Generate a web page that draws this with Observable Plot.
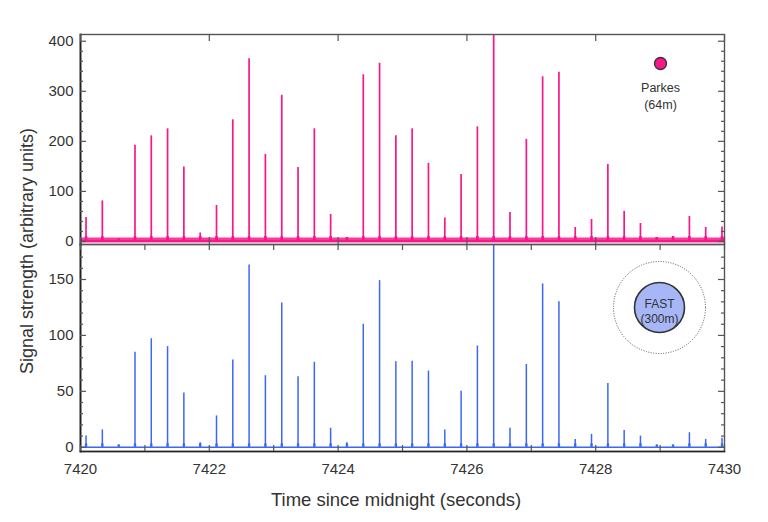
<!DOCTYPE html>
<html>
<head>
<meta charset="utf-8">
<script src="https://cdn.jsdelivr.net/npm/d3@7"></script>
<script src="https://cdn.jsdelivr.net/npm/@observablehq/plot@0.6"></script>
<style>
  html, body { margin: 0; padding: 0; background: #fff; }
  #wrap { position: relative; width: 768px; height: 522px; overflow: hidden; font-family: "Liberation Sans", Arial, sans-serif; color: #333; }
  #top, #bottom { position: absolute; left: 0; }
  #top { top: 0; }
  #bottom { top: 232px; }
  .ylab { position: absolute; left: 27px; top: 251px; transform: translate(-50%, -50%) rotate(-90deg); white-space: nowrap; font-size: 18px; }
  .xlab { position: absolute; left: 396px; top: 500px; transform: translate(-50%, -50%); white-space: nowrap; font-size: 18.5px; }
</style>
</head>
<body>
<div id="wrap">
  <div id="top"></div>
  <div id="bottom"></div>
  <div class="ylab">Signal strength (arbitrary units)</div>
  <div class="xlab">Time since midnight (seconds)</div>
</div>
<script>
// ---- data ----
const xDomain = [7420, 7430];
const xTicksAll = [7420, 7421, 7422, 7423, 7424, 7425, 7426, 7427, 7428, 7429, 7430];
const xTicksEven = [7420, 7422, 7424, 7426, 7428, 7430];

const pulseTimes = [
  7420.086, 7420.339, 7420.593, 7420.846, 7421.099, 7421.352, 7421.605, 7421.859,
  7422.112, 7422.365, 7422.618, 7422.871, 7423.125, 7423.378, 7423.631, 7423.884,
  7424.137, 7424.391, 7424.644, 7424.897, 7425.150, 7425.403, 7425.657, 7425.910,
  7426.163, 7426.416, 7426.669, 7426.923, 7427.176, 7427.429, 7427.682, 7427.935,
  7428.189, 7428.442, 7428.695, 7428.948, 7429.201, 7429.455, 7429.708, 7429.961
];
const parkesPeaks = [
  48, 81, 5, 192, 211, 225, 149, 17,
  72, 243, 365, 174, 292, 148, 225, 54,
  8, 333, 356, 211, 225, 156, 47, 134,
  229, 420, 58, 204, 329, 338, 28, 44,
  154, 60, 36, 8, 10, 50, 28, 29
];
const fastPeaks = [
  10, 15.5, 2, 85, 97, 90, 48.5, 4,
  28, 78, 163, 64, 129, 63, 76, 17,
  4, 110, 149, 76.5, 77, 68, 15.5, 50,
  90.5, 185, 17, 74, 146, 130, 7, 11.5,
  57, 15, 10, 2, 2, 13, 7, 8
];

const parkesMajor = [0, 100, 200, 300, 400];
const parkesMinor = [20, 40, 60, 80, 120, 140, 160, 180, 220, 240, 260, 280, 320, 340, 360, 380];
const fastMajor = [0, 50, 100, 150];
const fastMinor = [10, 20, 30, 40, 60, 70, 80, 90, 110, 120, 130, 140, 160, 170];

const parkesDomain = [-6, 413.4];
const fastDomain = [-3.8, 181.3];

const pink = "#f7178a";
const blue = "#3b68f2";
const ink = "#333";
const frameInk = "#555";
const axisInk = "#222";

const pulses = pulseTimes.map((t, i) => ({t, parkes: parkesPeaks[i], fast: fastPeaks[i]}));

const font = '"Liberation Sans", Arial, sans-serif';

// frame geometry (pixels)
const W = 768, ML = 80, MR = 44;
const TOP = {h: 258, mt: 34, mb: 14};   // frame 34..244
const BOT = {h: 290, mt: 12, mb: 71};   // frame 244..451 (svg offset 232)

// convert a pixel tick length into data units for each scale
const xPerPx = (xDomain[1] - xDomain[0]) / (W - ML - MR);
function yPerPx(domain, cfg) { return (domain[1] - domain[0]) / (cfg.h - cfg.mt - cfg.mb); }

function frameTicks(domain, cfg, yMajor, yMinor, xTop, xBottom, xLenTop, xLenBot) {
  const ky = yPerPx(domain, cfg);
  const st = {stroke: frameInk, strokeWidth: 1.2};
  const yRule = (vals, len) => [
    Plot.ruleY(vals, {y: d => d, x1: xDomain[0], x2: xDomain[0] + len * xPerPx, ...st}),
    Plot.ruleY(vals, {y: d => d, x1: xDomain[1], x2: xDomain[1] - len * xPerPx, ...st})
  ];
  return [
    ...yRule(yMajor, 6),
    ...yRule(yMinor, 3),
    Plot.ruleX(xTop, {x: d => d, y1: domain[1], y2: domain[1] - xLenTop * ky, ...st}),
    Plot.ruleX(xBottom, {x: d => d, y1: domain[0], y2: domain[0] + xLenBot * ky, ...st})
  ];
}

// ---- top panel: Parkes ----
const topPlot = Plot.plot({
  width: W, height: TOP.h,
  marginLeft: ML, marginRight: MR, marginTop: TOP.mt, marginBottom: TOP.mb,
  style: {background: "transparent", fontFamily: font, fontSize: "15px", color: ink, overflow: "visible"},
  x: {domain: xDomain, label: null, axis: null},
  y: {domain: parkesDomain, label: null},
  marks: [
    Plot.ruleY([3], {stroke: pink, strokeWidth: 5, strokeOpacity: 0.85}),
    Plot.ruleY([1], {stroke: pink, strokeWidth: 2}),
    Plot.ruleX(pulses, {x: "t", y1: 0, y2: d => Math.min(d.parkes, 10), stroke: pink, strokeWidth: 2.6, clip: true}),
    Plot.ruleX(pulses, {x: "t", y1: 0, y2: "parkes", stroke: pink, strokeWidth: 1.7, clip: true}),
    Plot.frame({stroke: frameInk, strokeWidth: 1.4}),
    Plot.frame({anchor: "left", stroke: axisInk, strokeWidth: 1.8}),
    ...frameTicks(parkesDomain, TOP, parkesMajor, parkesMinor, xTicksEven, xTicksEven, 7, 7),
    Plot.axisY(parkesMajor, {anchor: "left", tickSize: 0, tickPadding: 7, fill: ink, fontSize: 15}),
    Plot.dot([0], {frameAnchor: "top-right", dx: -64, dy: 29, r: 6, fill: pink, stroke: "#333", strokeWidth: 1.3}),
    Plot.text(["Parkes"], {frameAnchor: "top-right", dx: -64, dy: 49, textAnchor: "middle", fontSize: 12.5, fill: ink}),
    Plot.text(["(64m)"], {frameAnchor: "top-right", dx: -64, dy: 66, textAnchor: "middle", fontSize: 12.5, fill: ink})
  ]
});
document.getElementById("top").appendChild(topPlot);

// ---- bottom panel: FAST ----
const bottomPlot = Plot.plot({
  width: W, height: BOT.h,
  marginLeft: ML, marginRight: MR, marginTop: BOT.mt, marginBottom: BOT.mb,
  style: {background: "transparent", fontFamily: font, fontSize: "15px", color: ink},
  x: {domain: xDomain, label: null},
  y: {domain: fastDomain, label: null},
  marks: [
    Plot.ruleY([0], {stroke: blue, strokeWidth: 1.4}),
    Plot.ruleX(pulses, {x: "t", y1: 0, y2: d => Math.min(d.fast, 3), stroke: blue, strokeWidth: 2.4, clip: true}),
    Plot.ruleX(pulses, {x: "t", y1: 0, y2: "fast", stroke: blue, strokeWidth: 1.5, clip: true}),
    Plot.frame({stroke: frameInk, strokeWidth: 1.4}),
    Plot.frame({anchor: "left", stroke: axisInk, strokeWidth: 1.8}),
    Plot.frame({anchor: "bottom", stroke: axisInk, strokeWidth: 1.6}),
    ...frameTicks(fastDomain, BOT, fastMajor, fastMinor, xTicksAll, xTicksAll, 6, 6),
    Plot.axisY(fastMajor, {anchor: "left", tickSize: 0, tickPadding: 7, fill: ink, fontSize: 15}),
    Plot.axisX(xTicksEven, {anchor: "bottom", tickSize: 0, tickPadding: 12, fill: ink, fontSize: 15, tickFormat: d => String(d)}),
    Plot.dot([0], {frameAnchor: "top-right", dx: -65, dy: 63, r: 46, fill: "none", stroke: "#555", strokeWidth: 1, strokeDasharray: "1,1.5"}),
    Plot.dot([0], {frameAnchor: "top-right", dx: -65, dy: 63, r: 25, fill: "#a6b6f6", stroke: "#333", strokeWidth: 1.6}),
    Plot.text(["FAST"], {frameAnchor: "top-right", dx: -65, dy: 55, textAnchor: "middle", fontSize: 12, fill: ink}),
    Plot.text(["(300m)"], {frameAnchor: "top-right", dx: -65, dy: 70, textAnchor: "middle", fontSize: 12, fill: ink})
  ]
});
document.getElementById("bottom").appendChild(bottomPlot);
</script>
</body>
</html>
